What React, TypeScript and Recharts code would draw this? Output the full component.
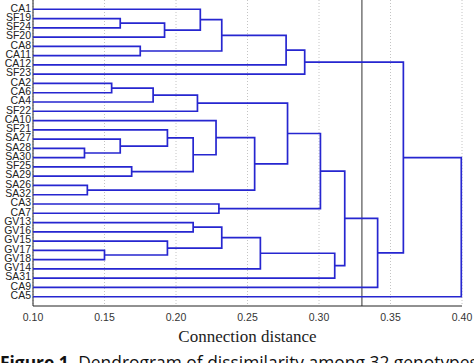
import { ScatterChart, Scatter, XAxis, YAxis, CartesianGrid, ReferenceLine } from "recharts";

// leaf order, top to bottom
const LEAVES = [
  "CA1", "SF19", "SF24", "SF20", "CA8", "CA11", "CA12", "SF23",
  "CA2", "CA6", "CA4", "SF22", "CA10", "SF21", "SA27", "SA28",
  "SA30", "SF25", "SA29", "SA26", "SA32", "CA3", "CA7", "GV13",
  "GV16", "GV15", "GV17", "GV18", "GV14", "SA31", "CA9", "CA5",
];

// [childA, childB, connection distance]; ids < 32 are leaves, 32 + k is merge k
const MERGES: [number, number, number][] = [
  [15, 16, 0.136], // 32 SA28+SA30
  [19, 20, 0.138], // 33 SA26+SA32
  [26, 27, 0.15], // 34 GV17+GV18
  [8, 9, 0.155], // 35 CA2+CA6
  [1, 2, 0.161], // 36 SF19+SF24
  [14, 32, 0.161], // 37
  [17, 18, 0.169], // 38 SF25+SA29
  [4, 5, 0.175], // 39 CA8+CA11
  [35, 10, 0.184], // 40
  [36, 3, 0.192], // 41
  [13, 37, 0.194], // 42
  [25, 34, 0.194], // 43
  [42, 38, 0.212], // 44
  [23, 24, 0.212], // 45 GV13+GV16
  [40, 11, 0.215], // 46
  [0, 41, 0.217], // 47
  [12, 44, 0.228], // 48
  [21, 22, 0.23], // 49 CA3+CA7
  [47, 39, 0.232], // 50
  [45, 43, 0.232], // 51
  [48, 33, 0.255], // 52
  [51, 28, 0.259], // 53
  [50, 6, 0.277], // 54
  [46, 52, 0.278], // 55
  [54, 7, 0.29], // 56
  [55, 49, 0.301], // 57
  [53, 29, 0.311], // 58
  [57, 58, 0.318], // 59
  [59, 30, 0.341], // 60
  [56, 60, 0.359], // 61
  [61, 31, 0.3995], // 62 root
];

const MAJOR_TICKS = [0.1, 0.15, 0.2, 0.25, 0.3, 0.35, 0.4];
const MINOR_TICKS = [
  0.1, 0.11, 0.12, 0.13, 0.14, 0.15, 0.16, 0.17, 0.18, 0.19, 0.2,
  0.21, 0.22, 0.23, 0.24, 0.25, 0.26, 0.27, 0.28, 0.29, 0.3,
  0.31, 0.32, 0.33, 0.34, 0.35, 0.36, 0.37, 0.38, 0.39, 0.4,
];
const ROW_TICKS = LEAVES.map((_, i) => i);
const CUT_LINE = 0.33;
const X_START = 0.1;

const LINE_COLOR = "#2626d0";
const AXIS_COLOR = "#222";

type Pt = { x: number; y: number };

// each merge becomes one elbow: childA -> height -> childB
function buildLinks(): Pt[][] {
  const pos: Pt[] = LEAVES.map((_, i) => ({ x: X_START, y: i }));
  return MERGES.map(([a, b, h]) => {
    const pa = pos[a];
    const pb = pos[b];
    pos.push({ x: h, y: (pa.y + pb.y) / 2 });
    return [
      { x: pa.x, y: pa.y },
      { x: h, y: pa.y },
      { x: h, y: pb.y },
      { x: pb.x, y: pb.y },
    ];
  });
}

const noDot = () => <g />;
const blank = () => "";

export default function App() {
  const links = buildLinks();

  return (
    <div style={{ position: "absolute", left: 0, top: 0, width: 474, height: 363, background: "#fff", overflow: "hidden" }}>
      <ScatterChart width={474} height={363} margin={{ top: 0, right: 12, bottom: 0, left: 0 }}>
        <CartesianGrid horizontal={false} stroke="#c4c4c4" strokeDasharray="1 2" />
        <XAxis
          type="number"
          dataKey="x"
          domain={[0.1, 0.4]}
          ticks={MAJOR_TICKS}
          interval={0}
          height={57}
          tickLine={false}
          tickSize={6}
          tickMargin={2}
          tickFormatter={(v: number) => v.toFixed(2)}
          axisLine={{ stroke: AXIS_COLOR }}
          tick={{ fontSize: 10.5, fill: "#333", fontFamily: "Liberation Sans, Arial, sans-serif" }}
          label={{
            value: "Connection distance",
            position: "insideBottom",
            offset: 21,
            fill: "#222",
            fontSize: 17,
            fontFamily: "Liberation Serif, Times New Roman, serif",
          }}
        />
        <XAxis
          xAxisId="minor"
          type="number"
          dataKey="x"
          domain={[0.1, 0.4]}
          ticks={MINOR_TICKS}
          interval={0}
          mirror
          height={0}
          axisLine={false}
          tickSize={3}
          tickLine={{ stroke: AXIS_COLOR }}
          tickFormatter={blank}
        />
        <XAxis
          xAxisId="top"
          orientation="top"
          type="number"
          dataKey="x"
          domain={[0.1, 0.4]}
          ticks={MINOR_TICKS}
          interval={0}
          mirror
          height={0}
          axisLine={{ stroke: AXIS_COLOR }}
          tickSize={3}
          tickLine={{ stroke: AXIS_COLOR }}
          tickFormatter={blank}
        />
        <YAxis
          type="number"
          dataKey="y"
          domain={[-1, 32]}
          reversed
          ticks={ROW_TICKS}
          interval={0}
          width={33}
          tickLine={false}
          tickSize={0}
          tickMargin={2}
          axisLine={{ stroke: AXIS_COLOR }}
          tickFormatter={(v: number) => LEAVES[v] ?? ""}
          tick={{ fontSize: 10.5, fill: "#222", fontFamily: "Liberation Sans, Arial, sans-serif", dy: -1.5 }}
        />
        <YAxis
          yAxisId="right"
          orientation="right"
          type="number"
          dataKey="y"
          domain={[-1, 32]}
          reversed
          ticks={ROW_TICKS}
          interval={0}
          mirror
          width={0}
          axisLine={{ stroke: AXIS_COLOR }}
          tickSize={3}
          tickLine={{ stroke: AXIS_COLOR }}
          tickFormatter={blank}
        />
        <ReferenceLine x={CUT_LINE} stroke="#555" strokeWidth={1.2} />
        {links.map((pts, i) => (
          <Scatter
            key={i}
            data={pts}
            line={{ stroke: LINE_COLOR, strokeWidth: 1.7 }}
            lineType="joint"
            shape={noDot}
            isAnimationActive={false}
          />
        ))}
        <Scatter xAxisId="minor" data={[{ x: X_START, y: 0 }]} shape={noDot} isAnimationActive={false} />
        <Scatter xAxisId="top" yAxisId="right" data={[{ x: X_START, y: 0 }]} shape={noDot} isAnimationActive={false} />
      </ScatterChart>
      <svg width={474} height={363} style={{ position: "absolute", left: 0, top: 0, pointerEvents: "none" }}>
        <text x={0} y={369} fontSize={17.4} fill="#111" fontFamily="Open Sans, Noto Sans, sans-serif">
          <tspan fontWeight="bold">Figure 1.</tspan>
          <tspan> Dendrogram of dissimilarity among 32 genotypes</tspan>
        </text>
      </svg>
    </div>
  );
}
